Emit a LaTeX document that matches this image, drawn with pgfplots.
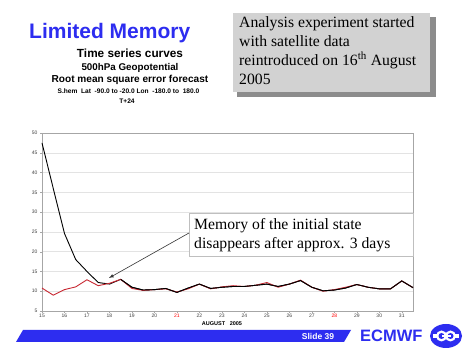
\documentclass[border=0pt]{standalone}
\usepackage{pgfplots}
\pgfplotsset{compat=1.18}
\usepackage{fontspec}
\setmainfont{Liberation Serif}
\newfontfamily\arial{Liberation Sans}
\definecolor{ecblue}{RGB}{45,45,240}
\definecolor{boxgray}{RGB}{210,210,210}
\definecolor{shadowgray}{RGB}{140,140,140}
\definecolor{redline}{RGB}{200,40,50}
\begin{document}
\begin{tikzpicture}[x=1pt,y=1pt]
\useasboundingbox (0,0) rectangle (474,355);
\fill[white] (0,0) rectangle (474,355);
% titles
\node[font=\arial\bfseries\fontsize{21}{21}\selectfont, text=ecblue, anchor=west, inner sep=0] at (29,322) {Limited Memory};
\node[font=\arial\bfseries\fontsize{11.8}{12}\selectfont, inner sep=0] at (130,302) {Time series curves};
\node[font=\arial\bfseries\fontsize{9.8}{10}\selectfont, inner sep=0] at (130,287) {500hPa Geopotential};
\node[font=\arial\bfseries\fontsize{10.1}{10}\selectfont, inner sep=0] at (130,275) {Root mean square error forecast};
\node[font=\arial\bfseries\fontsize{6.6}{7}\selectfont, inner sep=0] at (128.5,264) {S.hem\ \ Lat\ \ -90.0 to -20.0 Lon\ \ -180.0 to\ \ 180.0};
\node[font=\arial\bfseries\fontsize{6.6}{7}\selectfont, inner sep=0] at (127,254) {T+24};
% top-right box
\fill[shadowgray] (237,258) rectangle (436,338);
\fill[boxgray] (233,263) rectangle (430,342);
\node[anchor=north west, align=left, inner sep=0, font=\fontsize{15.7}{19}\selectfont] at (239,339) {Analysis experiment started\\with satellite data\\reintroduced on 16\textsuperscript{th} August\\2005};
% chart
\begin{axis}[at={(42pt,44pt)}, anchor=south west, scale only axis,
  width=371pt, height=178pt,
  xmin=15, xmax=31.5, ymin=5, ymax=50,
  xtick={15,...,31}, ytick={5,10,...,50},
  xticklabels={15,16,17,18,19,20,\textcolor{red}{21},22,23,24,25,26,27,\textcolor{red}{28},29,30,31},
  ymajorgrids, grid style={gray!22},
  axis line style={gray!70},
  tick style={gray!70}, major tick length=2pt, tick align=outside,
  xtick pos=bottom, ytick pos=left,
  /pgf/number format/assume math mode=true,
  tick label style={font=\arial\fontsize{5}{5}\selectfont, text=black!75},
  xticklabel style={yshift=2.5pt}, yticklabel style={xshift=1pt},
  clip=false]
\addplot[black, line width=0.9pt, mark=none] coordinates {
(15,47.5)(15.5,36)(16,24.6)(16.5,18)(17,15)(17.5,12.2)(18,11.8)(18.5,13)
(19,11)(19.5,10.3)(20,10.4)(20.5,10.7)(21,9.7)(21.5,10.8)(22,11.8)(22.5,10.7)
(23,11)(23.5,11.2)(24,11.2)(24.5,11.5)(25,11.8)(25.5,11.2)(26,11.8)(26.5,12.7)
(27,11)(27.5,10.1)(28,10.3)(28.5,10.8)(29,11.7)(29.5,11)(30,10.6)(30.5,10.6)
(31,12.6)(31.5,10.9)};
\addplot[redline, line width=0.9pt, mark=none] coordinates {
(15,10.8)(15.5,9)(16,10.4)(16.5,11.1)(17,12.9)(17.5,11.4)(18,12)(18.5,13)
(19,10.7)(19.5,10.2)(20,10.4)(20.5,10.6)(21,9.8)(21.5,10.6)(22,11.8)(22.5,10.6)
(23,11.1)(23.5,11.4)(24,11.2)(24.5,11.5)(25,12.2)(25.5,11)(26,11.8)(26.5,12.8)
(27,11)(27.5,10)(28,10.4)(28.5,11)(29,11.7)(29.5,11)(30,10.6)(30.5,10.6)
(31,12.6)(31.5,10.9)};
\addplot[black, line width=0.9pt, mark=none, forget plot] coordinates {
(18.5,13)(19,11)(19.5,10.3)(20,10.4)(20.5,10.7)(21,9.7)(21.5,10.8)(22,11.8)(22.5,10.7)
(23,11)(23.5,11.2)(24,11.2)(24.5,11.5)(25,11.8)(25.5,11.2)(26,11.8)(26.5,12.7)
(27,11)(27.5,10.1)(28,10.3)(28.5,10.8)(29,11.7)(29.5,11)(30,10.6)(30.5,10.6)
(31,12.6)(31.5,10.9)};
\end{axis}
\node[font=\arial\bfseries\fontsize{5.5}{6}\selectfont, inner sep=0] at (222,31) {AUGUST\ \ \ 2005};
% annotation box
\draw[gray!50, fill=white] (189,99) rectangle (413,142);
\node[anchor=west, align=left, inner sep=0, font=\fontsize{15.7}{19}\selectfont] at (194,120) {Memory of the initial state\\disappears after approx. 3 days};
\draw[-{latex}, black!80, line width=0.6pt] (189,122) -- (109,77);
% footer
\fill[ecblue] (16,13) -- (23,25) -- (351,25) -- (344,13) -- cycle;
\node[font=\arial\bfseries\fontsize{8.5}{9}\selectfont, text=white, inner sep=0] at (318,19) {Slide 39};
\node[font=\arial\bfseries\fontsize{16.5}{17}\selectfont, text=ecblue, anchor=west, inner sep=0] at (360,19) {ECMWF};
% logo
\begin{scope}[shift={(446,19)}]
\fill[ecblue] (0,0) ellipse (16 and 12);
\fill[white] (-13,-2.2) rectangle (13,2.2);
\fill[white] (-4.5,0) circle (5.5);
\fill[white] (4.5,0) circle (5.5);
\fill[ecblue] (-4.5,0) circle (3);
\fill[ecblue] (4.5,0) circle (3);
\fill[white] (-4.5,-1) rectangle (4.5,1);
\end{scope}
\end{tikzpicture}
\end{document}
